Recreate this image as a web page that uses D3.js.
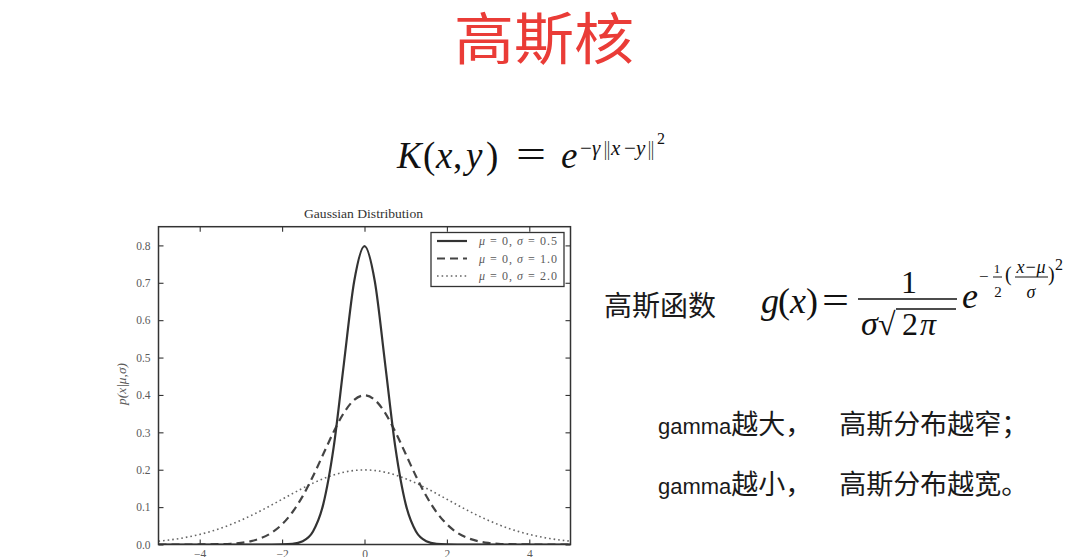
<!DOCTYPE html>
<html><head><meta charset="utf-8">
<script src="https://cdn.jsdelivr.net/npm/d3@7"></script>
<style>body{margin:0;background:#fff}svg{display:block}</style>
</head><body>
<svg id="c" width="1080" height="557"></svg>
<script>
// ---- data ----
const xs = [-5,-4.75,-4.5,-4.25,-4,-3.75,-3.5,-3.25,-3,-2.75,-2.5,-2.25,-2,-1.75,-1.5,-1.25,-1,-0.75,-0.5,-0.25,0,
            0.25,0.5,0.75,1,1.25,1.5,1.75,2,2.25,2.5,2.75,3,3.25,3.5,3.75,4,4.25,4.5,4.75,5];
const sigma05 = [0,0,0,0,0,0,0,0,0,0,0,0,0.0003,0.0017,0.0089,0.035,0.108,0.259,0.484,0.704,0.798,
                 0.704,0.484,0.259,0.108,0.035,0.0089,0.0017,0.0003,0,0,0,0,0,0,0,0,0,0,0,0];
const sigma10 = [0,0,0,0,0.0001,0.0004,0.0009,0.002,0.0044,0.0091,0.0175,0.0317,0.054,0.0863,0.1295,0.1826,0.242,0.3011,0.3521,0.3867,0.3989,
                 0.3867,0.3521,0.3011,0.242,0.1826,0.1295,0.0863,0.054,0.0317,0.0175,0.0091,0.0044,0.002,0.0009,0.0004,0.0001,0,0,0,0];
const sigma20 = [0.0088,0.0119,0.0159,0.0209,0.027,0.0344,0.0431,0.0533,0.0648,0.0775,0.0913,0.1059,0.121,0.136,0.1506,0.1641,0.176,0.1859,0.1933,0.1979,0.1995,
                 0.1979,0.1933,0.1859,0.176,0.1641,0.1506,0.136,0.121,0.1059,0.0913,0.0775,0.0648,0.0533,0.0431,0.0344,0.027,0.0209,0.0159,0.0119,0.0088];
const seriesSigma = ["0.5","1.0","2.0"];
const xTicks = [-4,-2,0,2,4];
const yTicks = [0,0.1,0.2,0.3,0.4,0.5,0.6,0.7,0.8];
const xDomain = [-5,5];
const yDomain = [0,0.85];

const svg = d3.select("#c");
const serif = "'Liberation Serif','DejaVu Serif',serif";
const cjk = "'Noto Sans CJK SC',sans-serif";

// ---- headings & text ----
svg.append("text").attr("x",544).attr("y",59).attr("text-anchor","middle")
  .attr("font-family",cjk).attr("font-size",56).attr("fill","#ea3c37")
  .attr("textLength",180).attr("lengthAdjust","spacingAndGlyphs").text("高斯核");

function piece(g, x, y, s, size, italic, anchor){
  return g.append("text").attr("x",x).attr("y",y).attr("font-family",serif).attr("font-size",size)
    .attr("font-style",italic?"italic":"normal").attr("fill","#111").attr("text-anchor",anchor||"start").text(s);
}
// K(x,y) = e^{-γ||x-y||^2}
const fk = svg.append("g");
piece(fk,397,168,"K",37,true);
piece(fk,423,168,"(",37,false);
piece(fk,436,168,"x",37,true);
piece(fk,453,168,",",37,false);
piece(fk,466,168,"y",37,true);
piece(fk,486,168,")",37,false);
piece(fk,516,168,"=",40,false).attr("textLength",30).attr("lengthAdjust","spacingAndGlyphs");
piece(fk,561,168,"e",37,true);
piece(fk,580,155,"−",21,false);
piece(fk,592,155,"γ",21,true);
piece(fk,604,155,"||",21,false).attr("textLength",6).attr("lengthAdjust","spacingAndGlyphs");
piece(fk,611,155,"x",21,true);
piece(fk,624,155,"−",21,false);
piece(fk,636,155,"y",21,true);
piece(fk,648,155,"||",21,false).attr("textLength",6).attr("lengthAdjust","spacingAndGlyphs");
piece(fk,657,144,"2",16,false);

// 高斯函数
svg.append("text").attr("x",604).attr("y",316).attr("font-family",cjk)
  .attr("font-size",28).attr("fill","#1a1a1a").text("高斯函数");

// g(x) = 1/(σ√2π) e^{-1/2((x-μ)/σ)^2}
const fg = svg.append("g");
piece(fg,761,313,"g",36,true);
piece(fg,778,313,"(",36,false);
piece(fg,790,313,"x",36,true);
piece(fg,806,313,")",36,false);
piece(fg,822,313,"=",38,false).attr("textLength",27).attr("lengthAdjust","spacingAndGlyphs");
fg.append("line").attr("x1",858).attr("x2",957).attr("y1",299).attr("y2",299).attr("stroke","#111").attr("stroke-width",1.6);
piece(fg,909,293,"1",32,false,"middle");
piece(fg,861,335,"σ",34,true);
piece(fg,878,335,"√",32,false);
fg.append("line").attr("x1",896).attr("x2",956).attr("y1",309).attr("y2",309).attr("stroke","#111").attr("stroke-width",1.4);
piece(fg,902,335,"2",32,false);
piece(fg,920,335,"π",32,true);
piece(fg,962,308,"e",36,true);
piece(fg,979,282,"−",17,false);
piece(fg,997,273,"1",13,false,"middle");
fg.append("line").attr("x1",993).attr("x2",1002).attr("y1",277).attr("y2",277).attr("stroke","#111").attr("stroke-width",1);
piece(fg,998,297,"2",15,false,"middle");
piece(fg,1005,281,"(",20,false);
piece(fg,1031,273,"x−μ",18,true,"middle");
fg.append("line").attr("x1",1015).attr("x2",1048).attr("y1",277).attr("y2",277).attr("stroke","#111").attr("stroke-width",1.1);
piece(fg,1031,298,"σ",18,true,"middle");
piece(fg,1048,281,")",20,false);
piece(fg,1055,270,"2",16,false);

// gamma lines
const noteHead = "gamma";
const noteMid = ["越大，","越小，"];
const noteTail = ["高斯分布越窄；","高斯分布越宽。"];
noteMid.forEach((mid,i)=>{
  const t = svg.append("text").attr("x",658).attr("y",434+i*60).attr("fill","#1a1a1a");
  t.append("tspan").attr("font-family","'Liberation Sans',sans-serif").attr("font-size",22).text(noteHead);
  t.append("tspan").attr("font-family",cjk).attr("font-size",27).text(mid);
  t.append("tspan").attr("font-family",cjk).attr("font-size",27).attr("dx",27).text(noteTail[i]);
});

// ---- chart ----
const L=158.5, R=570.5, T=226.7, B=544.5;
const x = d3.scaleLinear().domain(xDomain).range([L,R]);
const y = d3.scaleLinear().domain(yDomain).range([B,T]);

svg.append("defs").append("clipPath").attr("id","clip").append("rect")
  .attr("x",L).attr("y",T).attr("width",R-L).attr("height",B-T);

svg.append("text").attr("x",(L+R)/2-1).attr("y",218).attr("text-anchor","middle")
  .attr("font-family",serif).attr("font-size",12).attr("fill","#333")
  .attr("textLength",119).attr("lengthAdjust","spacingAndGlyphs").text("Gaussian Distribution");

const tickCol="#5a5a5a";
function styleAxis(g){
  g.select(".domain").remove();
  g.selectAll(".tick line").attr("stroke","#333").attr("stroke-width",1.1);
  g.selectAll(".tick text").attr("font-family",serif).attr("font-size",11.5).attr("fill",tickCol);
}
svg.append("g").attr("transform",`translate(0,${B})`)
  .call(d3.axisBottom(x).tickValues(xTicks).tickSize(-5).tickPadding(5)).call(styleAxis);
svg.append("g").attr("transform",`translate(0,${T})`)
  .call(d3.axisTop(x).tickValues(xTicks).tickSize(-5).tickFormat("")).call(styleAxis);
svg.append("g").attr("transform",`translate(${L},0)`)
  .call(d3.axisLeft(y).tickValues(yTicks).tickSize(-5).tickPadding(8).tickFormat(d3.format(".1f"))).call(styleAxis);
svg.append("g").attr("transform",`translate(${R},0)`)
  .call(d3.axisRight(y).tickValues(yTicks).tickSize(-5).tickFormat("")).call(styleAxis);

// y label
svg.append("text").attr("transform",`translate(126,384) rotate(-90)`).attr("text-anchor","middle")
  .attr("font-family",serif).attr("font-size",11.5).attr("font-style","italic").attr("fill",tickCol)
  .attr("textLength",42).attr("lengthAdjust","spacingAndGlyphs").text("p(x|μ,σ)");

const series = [
  {vals:sigma05, dash:null, w:2.2, col:"#333"},
  {vals:sigma10, dash:"8,5", w:2.2, col:"#444"},
  {vals:sigma20, dash:"1.6,3", w:1.6, col:"#666"}
];
const line = d3.line().x((d,i)=>x(xs[i])).y(d=>y(d)).curve(d3.curveMonotoneX);
const plot = svg.append("g").attr("clip-path","url(#clip)");
series.slice().reverse().forEach(s=>{
  plot.append("path").attr("d",line(s.vals)).attr("fill","none").attr("stroke",s.col)
    .attr("stroke-width",s.w).attr("stroke-dasharray",s.dash);
});

svg.append("rect").attr("x",L).attr("y",T).attr("width",R-L).attr("height",B-T)
  .attr("fill","none").attr("stroke","#333").attr("stroke-width",1.5);

// legend
const lg = svg.append("g");
lg.append("rect").attr("x",431).attr("y",232.5).attr("width",133).attr("height",54)
  .attr("fill","#fff").attr("stroke","#333").attr("stroke-width",1.3);
series.forEach((s,i)=>{
  const yy = 241+i*17.5;
  lg.append("line").attr("x1",437).attr("x2",467).attr("y1",yy).attr("y2",yy)
    .attr("stroke",s.col).attr("stroke-width",s.w).attr("stroke-dasharray",s.dash);
  const t = lg.append("text").attr("x",479).attr("y",yy+4).attr("font-family",serif).attr("font-size",12).attr("fill",tickCol)
    .attr("textLength",78).attr("lengthAdjust","spacing");
  t.append("tspan").attr("font-style","italic").text("μ");
  t.append("tspan").text(" = 0, ");
  t.append("tspan").attr("font-style","italic").text("σ");
  t.append("tspan").text(" = " + seriesSigma[i]);
});
</script>
</body></html>
